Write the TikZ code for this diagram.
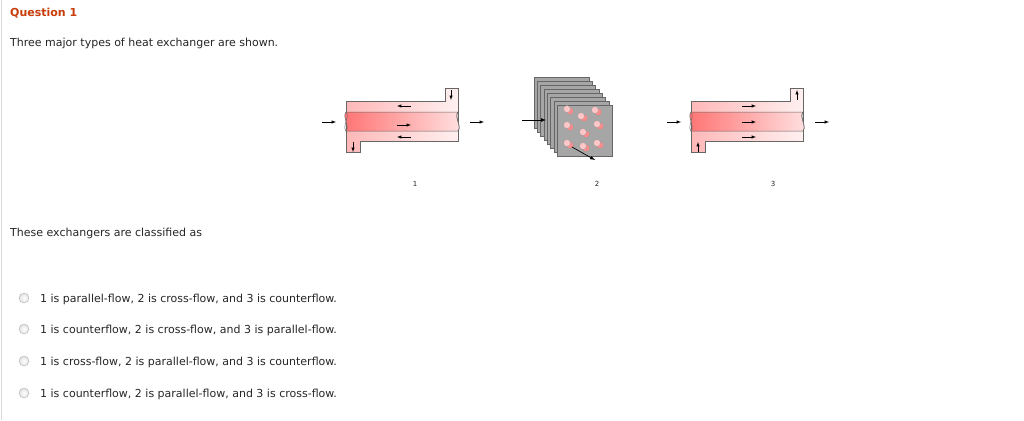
\documentclass[tikz,border=0pt]{standalone}
\usepackage{fontspec}
\setmainfont{DejaVu Sans}
\begin{document}
\begin{tikzpicture}[x=1pt,y=-1pt,
  txt/.style={anchor=base west,inner sep=0pt,font=\fontsize{11}{13}\selectfont,text=black!85},
  ar/.style={-latex,line width=0.5pt},
  sh/.style={left color=red!28,right color=red!6,draw=black!60,line width=0.5pt},
  tb/.style={left color=red!55,right color=red!12,draw=black!60,line width=0.5pt},
  radio/.style={circle,draw=black!30,inner color=white,outer color=black!12,minimum size=10pt,inner sep=0pt}]
\useasboundingbox (0,0) rectangle (1024,420);
\fill[white] (0,0) rectangle (1024,420);
\draw[black!15,line width=1pt] (1.5,0) -- (1.5,420);
\node[txt,font=\bfseries\fontsize{11}{13}\selectfont,text={rgb,255:red,200;green,60;blue,10}] (q) at (10,17) {Question 1};
\node[txt] (t1) at (10,46) {Three major types of heat exchanger are shown.};
\node[txt] (t2) at (10,236) {These exchangers are classified as};
% exchangers 1 and 3
\foreach \dx/\k in {0/1,345/3}{
\begin{scope}[xshift=\dx]
 \draw[sh] (346,101) -- (445,101) -- (445,88) -- (458,88) -- (458,141) -- (360,141) -- (360,152) -- (346,152) -- cycle;
 \draw[tb] (346,112) .. controls (342,117) and (350,126) .. (346,131) -- (458,131) .. controls (462,126) and (454,117) .. (458,112) -- cycle;
 \draw[black!60,line width=0.5pt] (346,112) .. controls (350,117) and (342,126) .. (346,131);
 \draw[black!60,line width=0.5pt] (458,112) .. controls (454,117) and (462,126) .. (458,131);
 \draw[ar] (322,122) -- (336,122);
 \draw[ar] (470,122) -- (484,122);
\end{scope}}
% ex 1 arrows
\draw[ar] (397,125) -- (411,125) ;
\draw[ar] (411,106) -- (397,106);
\draw[ar] (411,137) -- (397,137);
\draw[ar] (451,90) -- (451,100);
\draw[ar] (353,142) -- (353,152);
% ex 3 arrows
\draw[ar] (742,106) -- (756,106);
\draw[ar] (742,122) -- (756,122);
\draw[ar] (742,137) -- (756,137);
\draw[ar] (797,100) -- (797,90);
\draw[ar] (698,152) -- (698,142);
% ex 2
\foreach \i in {0,...,7}{
 \pgfmathsetmacro{\ox}{23*\i/7}
 \pgfmathsetmacro{\oy}{28*\i/7}
 \draw[fill=black!35,draw=black!60,line width=0.4pt] (534+\ox,77+\oy) rectangle (589+\ox,128+\oy);
}
\foreach \cx/\cy in {570/111,584/118,598/112,570/127,586/134,600/126,570/145,586/148,600/145}{
 \fill[red!45,draw=black!40,line width=0.3pt] (\cx,\cy) circle (3.5);
 \fill[red!22,draw=black!40,line width=0.3pt] (\cx-3,\cy-2) circle (3.5);
}
\draw[ar,line width=0.7pt] (522,120) -- (546,120);
\draw[ar,line width=0.7pt] (572,147) -- (595,160);
\node[txt,font=\fontsize{7}{8}\selectfont,anchor=base] (l1) at (415,186) {1};
\node[txt,font=\fontsize{7}{8}\selectfont,anchor=base] (l2) at (597,186) {2};
\node[txt,font=\fontsize{7}{8}\selectfont,anchor=base] (l3) at (773,186) {3};
\foreach \y/\s [count=\n] in {298/{1 is parallel-flow, 2 is cross-flow, and 3 is counterflow.},
 329/{1 is counterflow, 2 is cross-flow, and 3 is parallel-flow.},
 361/{1 is cross-flow, 2 is parallel-flow, and 3 is counterflow.},
 393/{1 is counterflow, 2 is parallel-flow, and 3 is cross-flow.}}{
 \node[radio] (r\n) at (24,\y) {};
 \node[txt] (o\n) at (40,\y+4) {\s};
}
\end{tikzpicture}
\end{document}
